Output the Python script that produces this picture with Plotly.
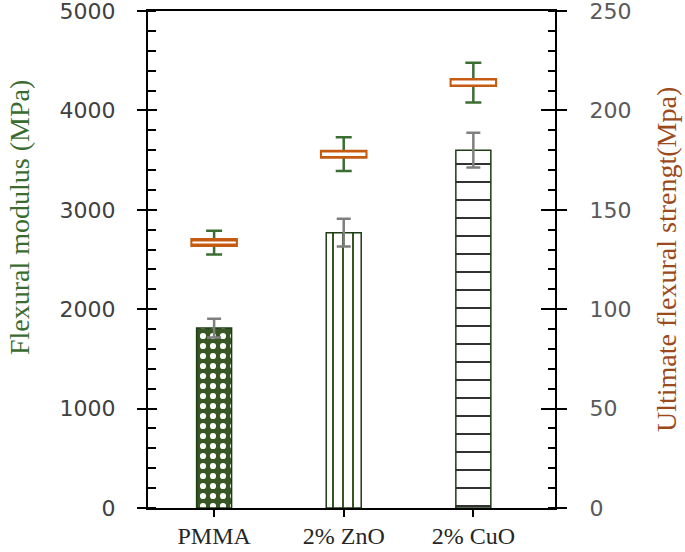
import plotly.graph_objects as go

categories = ["PMMA", "2% ZnO", "2% CuO"]
modulus = [1810, 2770, 3600]
modulus_err = [95, 140, 175]
strength = [133.5, 178, 214]
strength_err = [6, 8.5, 10]

GREEN = "#375623"
ORANGE = "#c55a11"

bar_styles = [
    dict(shape=".", fg="white", bg=GREEN, size=10, solidity=0.3),
    dict(shape="|", fg=GREEN, bg="white", size=10, solidity=0.2),
    dict(shape="-", fg="#1a1a1a", bg="white", size=18, solidity=0.1),
]

fig = go.Figure()

for i, cat in enumerate(categories):
    st = bar_styles[i]
    fig.add_trace(go.Bar(
        x=[cat], y=[modulus[i]], width=0.27,
        marker=dict(
            color=st["bg"],
            line=dict(color="#1e3d14", width=1.5),
            pattern=dict(shape=st["shape"], fgcolor=st["fg"], bgcolor=st["bg"],
                         size=st["size"], solidity=st["solidity"], fillmode="replace"),
        ),
        error_y=dict(type="data", array=[modulus_err[i]], color="#7f7f7f", thickness=2.5, width=7),
        showlegend=False,
    ))

# strength error bars
fig.add_trace(go.Scatter(
    x=categories, y=strength, yaxis="y2", mode="markers",
    marker=dict(size=1, color="rgba(0,0,0,0)"),
    error_y=dict(type="data", array=strength_err, color="#3b6e33", thickness=2.5, width=8),
    showlegend=False,
))
# strength marker outer
fig.add_trace(go.Scatter(
    x=categories, y=strength, yaxis="y2", mode="markers",
    marker=dict(symbol="line-ew", size=34, line=dict(color=ORANGE, width=9)),
    showlegend=False,
))
# strength marker inner
fig.add_trace(go.Scatter(
    x=categories, y=strength, yaxis="y2", mode="markers",
    marker=dict(symbol="line-ew", size=31, line=dict(color="white", width=[2, 3.5, 4])),
    showlegend=False,
))
# helper traces for crossing major ticks
fig.add_trace(go.Scatter(x=[], y=[], yaxis="y3", showlegend=False))
fig.add_trace(go.Scatter(x=[], y=[], yaxis="y4", showlegend=False))

fig.update_layout(
    width=685, height=552,
    margin=dict(l=148, r=130, t=11, b=44, autoexpand=False),
    paper_bgcolor="white", plot_bgcolor="white",
    barmode="overlay",
    xaxis=dict(type="category", categoryorder="array", categoryarray=categories,
               range=[-0.51, 2.63], showline=True, linecolor="black", linewidth=2,
               mirror=True, ticks="outside", ticklen=7, tickwidth=2, tickcolor="black",
               showgrid=False, zeroline=False, ticklabelstandoff=-2, automargin=False,
               ticklabeloverflow="allow",
               tickfont=dict(family="Liberation Serif", size=24, color="#262626")),
    yaxis=dict(range=[0, 5000], dtick=1000, showline=True, linecolor="black", linewidth=2,
               ticks="outside", ticklen=9, tickwidth=2, tickcolor="black",
               minor=dict(ticks="inside", dtick=200, ticklen=8, tickwidth=2, tickcolor="black"),
               showgrid=False, zeroline=False, ticklabelstandoff=17, automargin=False,
               ticklabeloverflow="allow",
               tickfont=dict(family="DejaVu Sans", size=22, color="#404040")),
    yaxis2=dict(range=[0, 250], dtick=50, overlaying="y", side="right", anchor="x",
                showline=True, linecolor="black", linewidth=2,
                ticks="outside", ticklen=10, tickwidth=2, tickcolor="black",
                minor=dict(ticks="inside", dtick=10, ticklen=7, tickwidth=2, tickcolor="black"),
                showgrid=False, zeroline=False, ticklabelstandoff=18, automargin=False,
                ticklabeloverflow="allow",
                tickfont=dict(family="DejaVu Sans", size=22, color="#595959")),
    yaxis3=dict(range=[0, 5000], dtick=1000, overlaying="y", side="left", anchor="x",
                showline=False, ticks="inside", ticklen=9, tickwidth=2, tickcolor="black",
                showticklabels=False, showgrid=False, zeroline=False, automargin=False),
    yaxis4=dict(range=[0, 250], dtick=50, overlaying="y", side="right", anchor="x",
                showline=False, ticks="inside", ticklen=14, tickwidth=2, tickcolor="black",
                showticklabels=False, showgrid=False, zeroline=False, automargin=False),
    annotations=[
        dict(text="Flexural modulus (MPa)", textangle=-90, xref="paper", yref="paper",
             x=(20 - 148) / 407, y=(508 - 218) / 497, showarrow=False,
             font=dict(family="Liberation Serif", size=28, color="#3a6b30"),
             xanchor="center", yanchor="middle"),
        dict(text="Ultimate flexural strengt(Mpa)", textangle=-90, xref="paper", yref="paper",
             x=(666 - 148) / 407, y=(508 - 260) / 497, showarrow=False,
             font=dict(family="Liberation Serif", size=28, color="#9b4a1c"),
             xanchor="center", yanchor="middle"),
    ],
)

fig.write_html("out.html")
